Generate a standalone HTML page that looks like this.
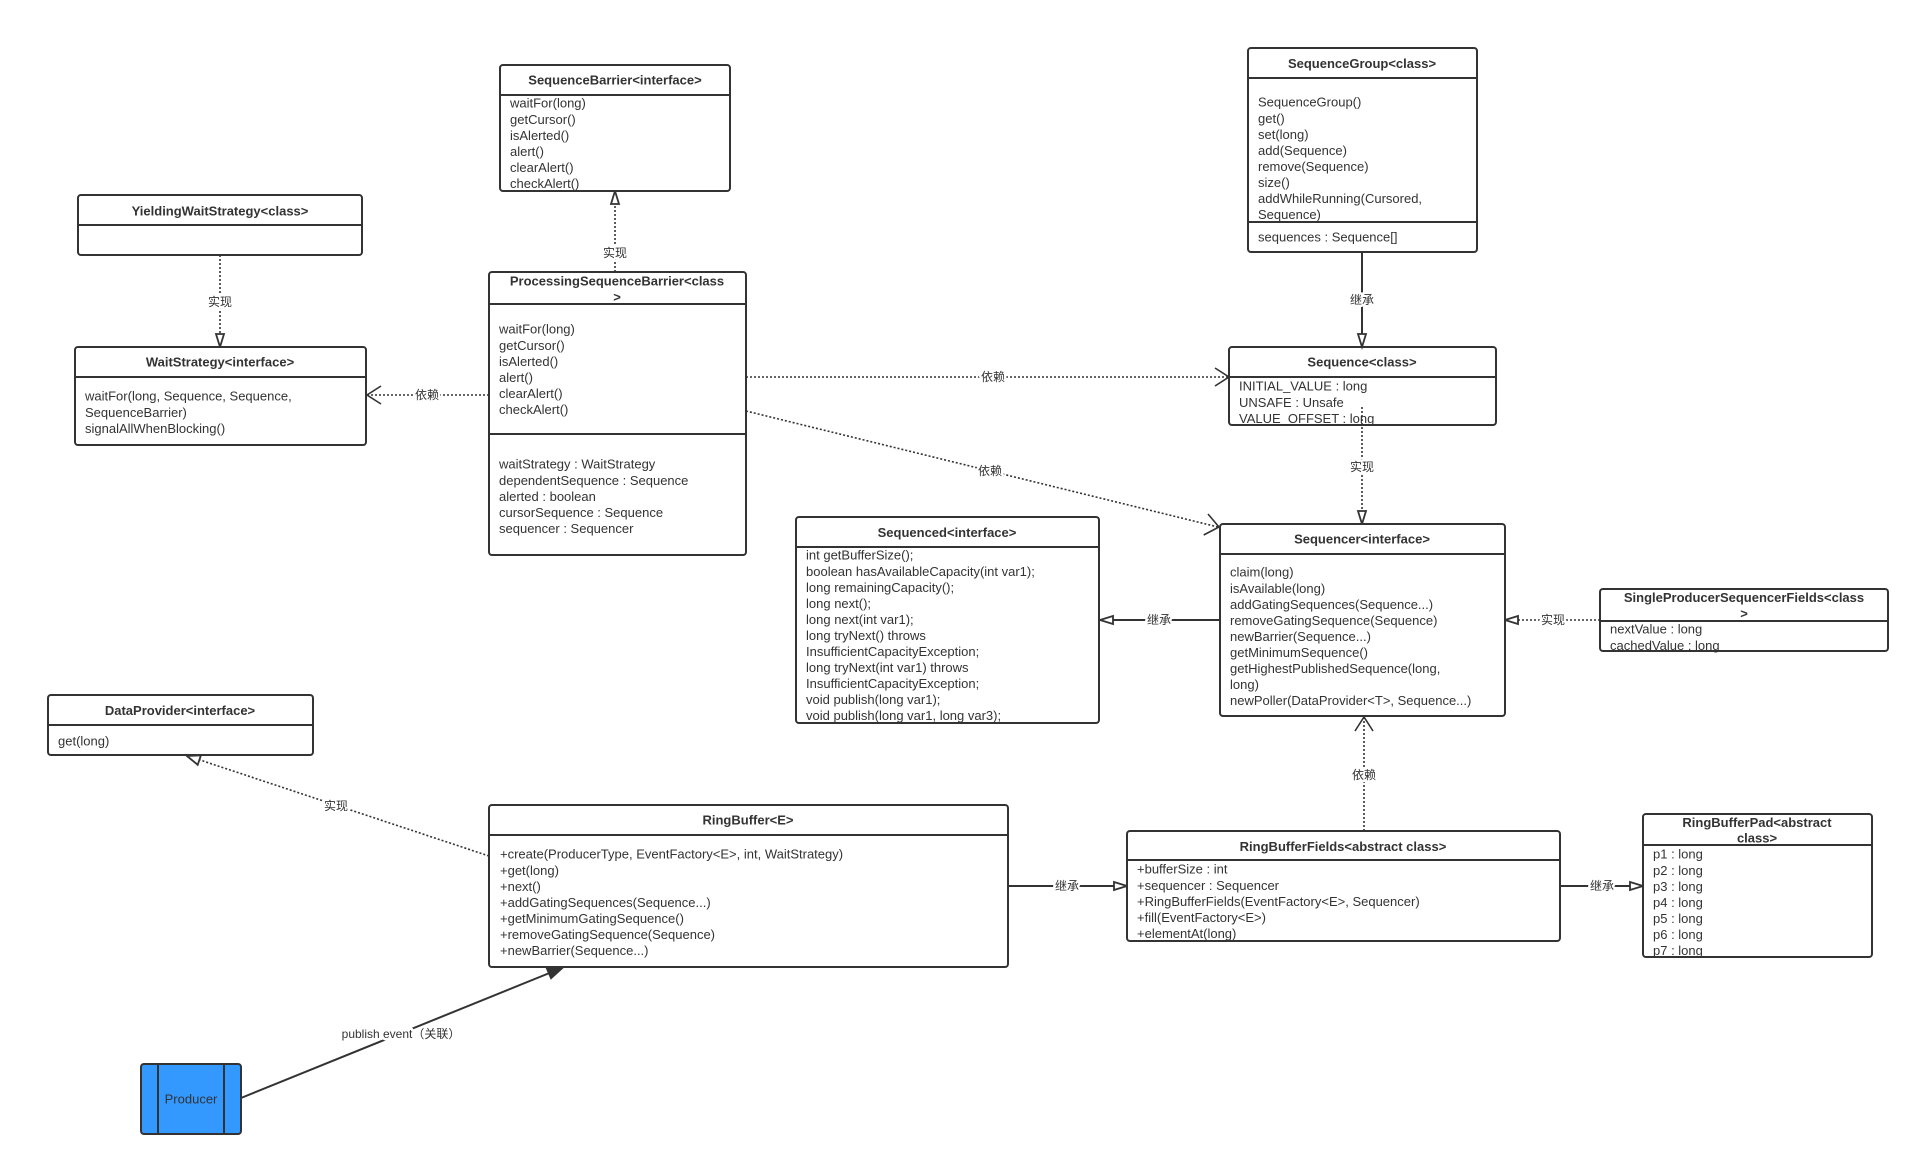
<!DOCTYPE html>
<html><head><meta charset="utf-8"><style>
html,body{margin:0;padding:0;background:#fff;}
svg{display:block;}
text{font-family:"Liberation Sans","Noto Sans CJK SC",sans-serif;fill:#333;font-size:13px;}
.t{font-weight:bold;text-anchor:middle;}
.l{font-size:12px;text-anchor:middle;stroke:#fff;stroke-width:5px;paint-order:stroke;stroke-linejoin:round;}
.b{fill:#fff;stroke:#333;stroke-width:2;}
.d{stroke:#333;stroke-width:1.6;stroke-dasharray:2,2;fill:none;}
.s{stroke:#333;stroke-width:2;fill:none;}
.h{fill:#fff;stroke:#333;stroke-width:1.8;}
</style></head><body>
<svg width="1919" height="1166" viewBox="0 0 1919 1166" xmlns="http://www.w3.org/2000/svg" dominant-baseline="central">

<!-- connectors -->
<line class="d" x1="220" y1="255" x2="220" y2="334"/>
<polygon class="h" points="220,347 216,334 224,334"/>
<text class="l" x="220" y="302">实现</text>

<line class="d" x1="615" y1="272" x2="615" y2="204"/>
<polygon class="h" points="615,191 611,204 619,204"/>
<text class="l" x="615" y="253">实现</text>

<line class="d" x1="489" y1="395" x2="367" y2="395"/>
<polyline class="s" points="381,386 367,395 381,404" style="stroke-width:1.6"/>
<text class="l" x="427" y="395">依赖</text>

<line class="d" x1="746" y1="377" x2="1228" y2="377"/>
<polyline class="s" points="1215,368 1229,377 1215,386" style="stroke-width:1.6"/>
<text class="l" x="993" y="377">依赖</text>

<line class="d" x1="746" y1="411" x2="1218" y2="527"/>
<polyline class="s" points="1203.7,535 1219,527 1208,514" style="stroke-width:1.6"/>
<text class="l" x="990" y="471">依赖</text>

<line class="s" x1="1362" y1="252" x2="1362" y2="334"/>
<polygon class="h" points="1362,347 1358,334 1366,334"/>
<text class="l" x="1362" y="300">继承</text>

<line class="d" x1="1362" y1="407" x2="1362" y2="511"/>
<polygon class="h" points="1362,524 1358,511 1366,511"/>
<text class="l" x="1362" y="467">实现</text>

<line class="s" x1="1220" y1="620" x2="1113" y2="620"/>
<polygon class="h" points="1100,620 1113,616 1113,624"/>
<text class="l" x="1159" y="620">继承</text>

<line class="d" x1="1600" y1="620" x2="1518" y2="620"/>
<polygon class="h" points="1505,620 1518,616 1518,624"/>
<text class="l" x="1553" y="620">实现</text>

<line class="d" x1="1364" y1="831" x2="1364" y2="717"/>
<polyline class="s" points="1355,731 1364,717 1373,731" style="stroke-width:1.6"/>
<text class="l" x="1364" y="775">依赖</text>

<line class="s" x1="1008" y1="886" x2="1114" y2="886"/>
<polygon class="h" points="1127,886 1114,882 1114,890"/>
<text class="l" x="1067" y="886">继承</text>

<line class="s" x1="1560" y1="886" x2="1630" y2="886"/>
<polygon class="h" points="1643,886 1630,882 1630,890"/>
<text class="l" x="1602" y="886">继承</text>

<line class="d" x1="489" y1="856" x2="200" y2="760"/>
<polygon class="h" points="187,756 197.7,764.8 200.9,755.4"/>
<text class="l" x="336" y="806">实现</text>

<line class="s" x1="241" y1="1098" x2="552" y2="972"/>
<polygon points="564,967 550.9,978.9 546.1,967.7" fill="#333" stroke="#333" stroke-width="1"/>
<text class="l" x="401" y="1034">publish event（关联）</text>

<!-- SequenceBarrier -->
<rect class="b" x="500" y="65" width="230" height="126" rx="3"/>
<line class="s" x1="500" y1="95" x2="730" y2="95"/>
<text class="t" x="615" y="80">SequenceBarrier&lt;interface&gt;</text>
<text x="510" y="103">waitFor(long)<tspan x="510" dy="16">getCursor()</tspan><tspan x="510" dy="16">isAlerted()</tspan><tspan x="510" dy="16">alert()</tspan><tspan x="510" dy="16">clearAlert()</tspan><tspan x="510" dy="16">checkAlert()</tspan></text>

<!-- YieldingWaitStrategy -->
<rect class="b" x="78" y="195" width="284" height="60" rx="3"/>
<line class="s" x1="78" y1="225" x2="362" y2="225"/>
<text class="t" x="220" y="211">YieldingWaitStrategy&lt;class&gt;</text>

<!-- WaitStrategy -->
<rect class="b" x="75" y="347" width="291" height="98" rx="3"/>
<line class="s" x1="75" y1="377" x2="366" y2="377"/>
<text class="t" x="220" y="362">WaitStrategy&lt;interface&gt;</text>
<text x="85" y="396">waitFor(long, Sequence, Sequence,<tspan x="85" dy="16">SequenceBarrier)</tspan><tspan x="85" dy="16">signalAllWhenBlocking()</tspan></text>

<!-- ProcessingSequenceBarrier -->
<rect class="b" x="489" y="272" width="257" height="283" rx="3"/>
<line class="s" x1="489" y1="304" x2="746" y2="304"/>
<line class="s" x1="489" y1="434" x2="746" y2="434"/>
<text class="t" x="617" y="281">ProcessingSequenceBarrier&lt;class</text>
<text class="t" x="617" y="297">&gt;</text>
<text x="499" y="329">waitFor(long)<tspan x="499" dy="16">getCursor()</tspan><tspan x="499" dy="16">isAlerted()</tspan><tspan x="499" dy="16">alert()</tspan><tspan x="499" dy="16">clearAlert()</tspan><tspan x="499" dy="16">checkAlert()</tspan></text>
<text x="499" y="464">waitStrategy : WaitStrategy<tspan x="499" dy="16">dependentSequence : Sequence</tspan><tspan x="499" dy="16">alerted : boolean</tspan><tspan x="499" dy="16">cursorSequence : Sequence</tspan><tspan x="499" dy="16">sequencer : Sequencer</tspan></text>

<!-- SequenceGroup -->
<rect class="b" x="1248" y="48" width="229" height="204" rx="3"/>
<line class="s" x1="1248" y1="78" x2="1477" y2="78"/>
<line class="s" x1="1248" y1="222" x2="1477" y2="222"/>
<text class="t" x="1362" y="63.5">SequenceGroup&lt;class&gt;</text>
<text x="1258" y="102">SequenceGroup()<tspan x="1258" dy="16">get()</tspan><tspan x="1258" dy="16">set(long)</tspan><tspan x="1258" dy="16">add(Sequence)</tspan><tspan x="1258" dy="16">remove(Sequence)</tspan><tspan x="1258" dy="16">size()</tspan><tspan x="1258" dy="16">addWhileRunning(Cursored,</tspan><tspan x="1258" dy="16">Sequence)</tspan></text>
<text x="1258" y="237">sequences : Sequence[]</text>

<!-- Sequence -->
<rect class="b" x="1229" y="347" width="267" height="78" rx="3" style="fill:none"/>
<line class="s" x1="1229" y1="377" x2="1496" y2="377"/>
<text class="t" x="1362" y="362">Sequence&lt;class&gt;</text>
<text x="1239" y="386">INITIAL_VALUE : long<tspan x="1239" dy="16">UNSAFE : Unsafe</tspan><tspan x="1239" dy="16">VALUE_OFFSET : long</tspan></text>

<!-- Sequencer -->
<rect class="b" x="1220" y="524" width="285" height="192" rx="3"/>
<line class="s" x1="1220" y1="554" x2="1505" y2="554"/>
<text class="t" x="1362" y="539">Sequencer&lt;interface&gt;</text>
<text x="1230" y="572">claim(long)<tspan x="1230" dy="16">isAvailable(long)</tspan><tspan x="1230" dy="16">addGatingSequences(Sequence...)</tspan><tspan x="1230" dy="16">removeGatingSequence(Sequence)</tspan><tspan x="1230" dy="16">newBarrier(Sequence...)</tspan><tspan x="1230" dy="16">getMinimumSequence()</tspan><tspan x="1230" dy="16">getHighestPublishedSequence(long,</tspan><tspan x="1230" dy="16">long)</tspan><tspan x="1230" dy="16">newPoller(DataProvider&lt;T&gt;, Sequence...)</tspan></text>

<!-- Sequenced -->
<rect class="b" x="796" y="517" width="303" height="206" rx="3"/>
<line class="s" x1="796" y1="547" x2="1099" y2="547"/>
<text class="t" x="947" y="532.5">Sequenced&lt;interface&gt;</text>
<text x="806" y="555">int getBufferSize();<tspan x="806" dy="16">boolean hasAvailableCapacity(int var1);</tspan><tspan x="806" dy="16">long remainingCapacity();</tspan><tspan x="806" dy="16">long next();</tspan><tspan x="806" dy="16">long next(int var1);</tspan><tspan x="806" dy="16">long tryNext() throws</tspan><tspan x="806" dy="16">InsufficientCapacityException;</tspan><tspan x="806" dy="16">long tryNext(int var1) throws</tspan><tspan x="806" dy="16">InsufficientCapacityException;</tspan><tspan x="806" dy="16">void publish(long var1);</tspan><tspan x="806" dy="16">void publish(long var1, long var3);</tspan></text>

<!-- SingleProducerSequencerFields -->
<rect class="b" x="1600" y="589" width="288" height="62" rx="3"/>
<line class="s" x1="1600" y1="621" x2="1888" y2="621"/>
<text class="t" x="1744" y="597.5">SingleProducerSequencerFields&lt;class</text>
<text class="t" x="1744" y="613.5">&gt;</text>
<text x="1610" y="629">nextValue : long<tspan x="1610" dy="16">cachedValue : long</tspan></text>

<!-- DataProvider -->
<rect class="b" x="48" y="695" width="265" height="60" rx="3"/>
<line class="s" x1="48" y1="725" x2="313" y2="725"/>
<text class="t" x="180" y="710.5">DataProvider&lt;interface&gt;</text>
<text x="58" y="741">get(long)</text>

<!-- RingBuffer -->
<rect class="b" x="489" y="805" width="519" height="162" rx="3"/>
<line class="s" x1="489" y1="835" x2="1008" y2="835"/>
<text class="t" x="748" y="820">RingBuffer&lt;E&gt;</text>
<text x="500" y="854">+create(ProducerType, EventFactory&lt;E&gt;, int, WaitStrategy)<tspan x="500" dy="16">+get(long)</tspan><tspan x="500" dy="16">+next()</tspan><tspan x="500" dy="16">+addGatingSequences(Sequence...)</tspan><tspan x="500" dy="16">+getMinimumGatingSequence()</tspan><tspan x="500" dy="16">+removeGatingSequence(Sequence)</tspan><tspan x="500" dy="16">+newBarrier(Sequence...)</tspan></text>

<!-- RingBufferFields -->
<rect class="b" x="1127" y="831" width="433" height="110" rx="3"/>
<line class="s" x1="1127" y1="860" x2="1560" y2="860"/>
<text class="t" x="1343" y="846.5">RingBufferFields&lt;abstract class&gt;</text>
<text x="1137" y="869">+bufferSize : int<tspan x="1137" dy="16">+sequencer : Sequencer</tspan><tspan x="1137" dy="16">+RingBufferFields(EventFactory&lt;E&gt;, Sequencer)</tspan><tspan x="1137" dy="16">+fill(EventFactory&lt;E&gt;)</tspan><tspan x="1137" dy="16">+elementAt(long)</tspan></text>

<!-- RingBufferPad -->
<rect class="b" x="1643" y="814" width="229" height="143" rx="3"/>
<line class="s" x1="1643" y1="845" x2="1872" y2="845"/>
<text class="t" x="1757" y="822.5">RingBufferPad&lt;abstract</text>
<text class="t" x="1757" y="838">class&gt;</text>
<text x="1653" y="854">p1 : long<tspan x="1653" dy="16">p2 : long</tspan><tspan x="1653" dy="16">p3 : long</tspan><tspan x="1653" dy="16">p4 : long</tspan><tspan x="1653" dy="16">p5 : long</tspan><tspan x="1653" dy="16">p6 : long</tspan><tspan x="1653" dy="16">p7 : long</tspan></text>

<!-- Producer -->
<rect x="141" y="1064" width="100" height="70" rx="3" fill="#3399ff" stroke="#333" stroke-width="2"/>
<line class="s" x1="158" y1="1064" x2="158" y2="1134"/>
<line class="s" x1="224" y1="1064" x2="224" y2="1134"/>
<text x="191" y="1099" text-anchor="middle">Producer</text>
</svg>
</body></html>
